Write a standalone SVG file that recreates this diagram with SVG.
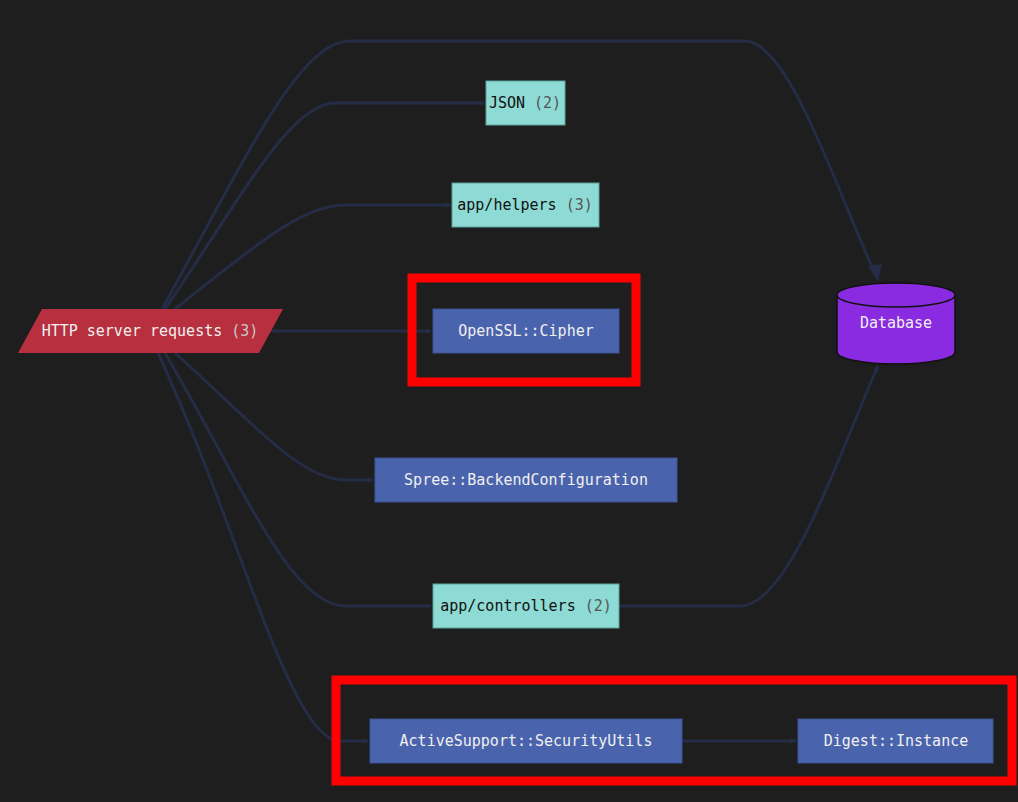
<svg xmlns="http://www.w3.org/2000/svg" width="1018" height="802" viewBox="0 0 1018 802">
<defs>
<marker id="ah" viewBox="0 0 10 10" refX="9" refY="5" markerWidth="6" markerHeight="6" markerUnits="userSpaceOnUse" orient="auto"><path d="M0,0 L10,5 L0,10 z" fill="#252c45"/></marker>
<style>
text{font-family:"DejaVu Sans Mono","Liberation Mono",monospace;font-size:15px;dominant-baseline:central;text-anchor:middle}
.e{fill:none;stroke:#252c45;stroke-width:3;marker-end:url(#ah)}
.teal{fill:#8ddbd4;stroke:#5aa39c}
.blue{fill:#4a63ad;stroke:#3d5496}
.dk{fill:#111}
.lt{fill:#f0f0f0}
.cnt{fill:#555}
.cntl{fill:#c8c8c8}
.hl{fill:none;stroke:#ff0000;stroke-width:9}
</style>
</defs>
<rect width="1018" height="802" fill="#1e1e1e"/>
<g id="connectors">
<path class="e" d="M162,309 C250,150 300,41 350,41 L745,41 C790,41 840,200 878,280" marker-end="url(#ah)" style="marker-end:none"/>
<path d="M868,266 L878,282 L882,264 z" fill="#252c45"/>
<path class="e" d="M165,309 C240,200 290,103 335,103 L484,103"/>
<path class="e" d="M175,309 C250,250 300,205 345,205 L450,205"/>
<path class="e" d="M270,331 L431,331"/>
<path class="e" d="M175,353 C250,420 300,480 345,480 L373,480"/>
<path class="e" d="M165,353 C240,480 290,606 345,606 L431,606"/>
<path class="e" d="M158,353 C240,530 290,741 340,741 L368,741"/>
<path class="e" d="M619,606 L740,606 C790,606 840,450 878,366"/>
<path class="e" d="M682,741 L796,741"/>
</g>
<g id="http"><polygon points="18,353 42,309 283,309 259,353" fill="#b8303f"/><text x="150" y="331"><tspan class="lt">HTTP server requests </tspan><tspan class="cntl">(3)</tspan></text></g>
<g id="json"><rect class="teal" x="486" y="81" width="79" height="44"/><text x="525" y="103"><tspan class="dk">JSON </tspan><tspan class="cnt">(2)</tspan></text></g>
<g id="helpers"><rect class="teal" x="452" y="183" width="147" height="44"/><text x="525" y="205"><tspan class="dk">app/helpers </tspan><tspan class="cnt">(3)</tspan></text></g>
<g id="openssl"><rect class="blue" x="433" y="309" width="186" height="44"/><text class="lt" x="526" y="331">OpenSSL::Cipher</text></g>
<g id="spree"><rect class="blue" x="375" y="458" width="302" height="44"/><text class="lt" x="526" y="480">Spree::BackendConfiguration</text></g>
<g id="controllers"><rect class="teal" x="433" y="584" width="186" height="44"/><text x="526" y="606"><tspan class="dk">app/controllers </tspan><tspan class="cnt">(2)</tspan></text></g>
<g id="activesupport"><rect class="blue" x="370" y="719" width="312" height="44"/><text class="lt" x="526" y="741">ActiveSupport::SecurityUtils</text></g>
<g id="digest"><rect class="blue" x="798" y="719" width="195" height="44"/><text class="lt" x="896" y="741">Digest::Instance</text></g>
<g id="database"><path d="M837,295 L837,352 A59,12 0 0 0 955,352 L955,295 A59,12 0 0 0 837,295 A59,12 0 0 0 955,295" fill="#8a2be2" stroke="#111" stroke-width="1.5"/><text class="lt" x="896" y="323">Database</text></g>
<g id="highlights"><rect class="hl" x="412" y="278" width="224" height="104"/><rect class="hl" x="336" y="680" width="676" height="101"/></g>
</svg>
